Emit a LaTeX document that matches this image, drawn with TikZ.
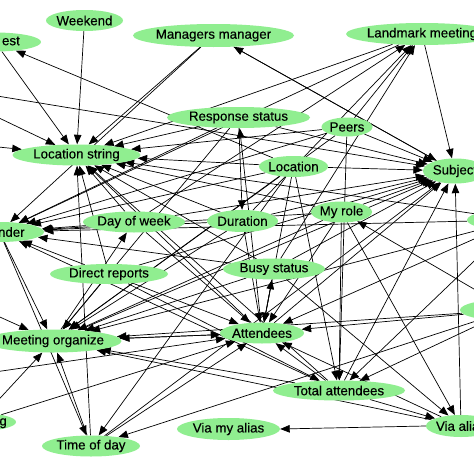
\documentclass[tikz,border=0pt]{standalone}
\usepackage{fontspec}
\setmainfont{Liberation Sans}
\newfontfamily\lblfont{Liberation Sans}[FakeBold=0.35]
\usetikzlibrary{shapes.geometric,arrows.meta}
\definecolor{lgreen}{RGB}{144,238,144}
\pgfdeclarelayer{bg}
\pgfsetlayers{bg,main}
\tikzset{
  ell/.style={ellipse, fill=lgreen, draw=none, inner sep=0pt},
  txt/.style={font=\lblfont\fontsize{13.3}{15}\selectfont, inner sep=0pt, text=black},
  edge/.style={line width=0.7pt, draw=black, -{Triangle[length=9.5pt,width=7.5pt]}},
}
\begin{document}
\begin{tikzpicture}[x=1pt,y=-1pt]
\useasboundingbox (0,0) rectangle (474,474);

\node[ell,minimum width=77,minimum height=21,label={[txt]center:Weekend}] (wk) at (84.5,20.5) {};
\node[ell,minimum width=92,minimum height=19,label={[txt]center:\phantom{Requ}est}] (rq) at (-5,42) {};
\node[ell,minimum width=161,minimum height=23,label={[txt]center:Managers manager}] (mm) at (213.5,35.5) {};
\node[ell,minimum width=152,minimum height=22,label={[txt]center:Landmark meeting}] (lm) at (422,34) {};
\node[ell,minimum width=143,minimum height=21,label={[txt]center:Response status}] (rs) at (238.5,117.5) {};
\node[ell,minimum width=51,minimum height=19,label={[txt]center:Peers}] (pe) at (347,127) {};
\node[ell,minimum width=128,minimum height=21,label={[txt]center:Location string}] (ls) at (76.5,155) {};
\node[ell,minimum width=69,minimum height=21,label={[txt]center:Location}] (lo) at (293.5,166.5) {};
\node[ell,minimum width=64,minimum height=25,label={[txt]center:Subject}] (su) at (455,171) {};
\node[ell,minimum width=102,minimum height=21,label={[txt]center:Day of week}] (dw) at (134,222) {};
\node[ell,minimum width=71,minimum height=22,label={[txt]center:Duration}] (du) at (242.5,221) {};
\node[ell,minimum width=61,minimum height=21,label={[txt]center:My role}] (mr) at (341.5,212) {};
\node[ell,minimum width=89,minimum height=20,label={[txt]center:\phantom{Atte}nder}] (at) at (-0.5,232) {};
\node[ell,minimum width=100,minimum height=22] (r1) at (517,220) {};
\node[ell,minimum width=100,minimum height=22] (r2) at (510,310) {};
\node[ell,minimum width=118,minimum height=20,label={[txt]center:Direct reports}] (dr) at (109,274) {};
\node[ell,minimum width=102,minimum height=21,label={[txt]center:Busy status}] (bs) at (274,269) {};
\node[ell,minimum width=137,minimum height=23,label={[txt]center:Meeting organize}] (mo) at (53,341) {};
\node[ell,minimum width=84,minimum height=21,label={[txt]center:Attendees}] (ad) at (262,333) {};
\node[ell,minimum width=132,minimum height=20,label={[txt]center:Total attendees}] (ta) at (339,390.5) {};
\node[ell,minimum width=103,minimum height=22,label={[txt]center:Via my alias}] (vmy) at (228.5,429) {};
\node[ell,minimum width=70,minimum height=22,label={[txt]center:Via alias}] (val) at (461,426) {};
\node[ell,minimum width=98,minimum height=21,label={[txt]center:Time of day}] (td) at (91,446) {};
\node[ell,minimum width=76,minimum height=18,label={[txt]center:\phantom{Recurrin}g}] (gg) at (-22,422) {};

\coordinate (ol1) at (-70,85);
\coordinate (ol2) at (-70,140);
\coordinate (ol3) at (-60,290);
\coordinate (ol4) at (-60,380);

\draw[edge] (val.west) -- (vmy.east);

\begin{pgfonlayer}{bg}
\fill[white] (0,0) rectangle (474,474);
\foreach \a/\b in {wk/ls, mm/ls, mm/at, su/mm, mm/su, lm/su, lm/ls, lm/at,
  rs/ls, rs/su, rs/at, rs/du, rs/mo,
  pe/ls, pe/su, pe/ta, pe/at, pe/mo, pe/lm,
  lo/ls, lo/su, lo/at, lo/rq, lo/ta, lo/mo, lo/ad, lo/td,
  dw/ls, dw/su, dw/at, dw/ad, dw/lm,
  du/ls, du/su, du/at, du/ad, du/mo, du/lm,
  mr/ls, mr/su, mr/at, mr/ta, mr/val, mr/mo, mr/ad,
  dr/ls, dr/su, dr/at, dr/mo, dr/ad, dr/ta,
  bs/ls, bs/su, bs/at, bs/ad, bs/mo, bs/lm, bs/val,
  ad/bs, ad/mo, ad/ls, ad/su, ad/rs,
  mo/ad, mo/dw, mo/su,
  ta/ad, ta/val, ta/su, ta/mo, ta/at, ta/ls,
  val/su, val/ad, val/mo,
  td/mo, td/ls, td/ad, td/su,
  r1/ls, r1/ad, r1/ta, r1/mo, r1/at,
  r2/mr, r2/ad, r2/td, r2/ta, r2/mo,
  ol1/ls, ol2/ls, ol1/su, ol3/mo, ol4/ad, ol2/at,
  gg/ad, gg/mo, rq/ls, at/mo, at/td}
  \draw[edge] (\a) -- (\b);
\end{pgfonlayer}
\end{tikzpicture}
\end{document}
